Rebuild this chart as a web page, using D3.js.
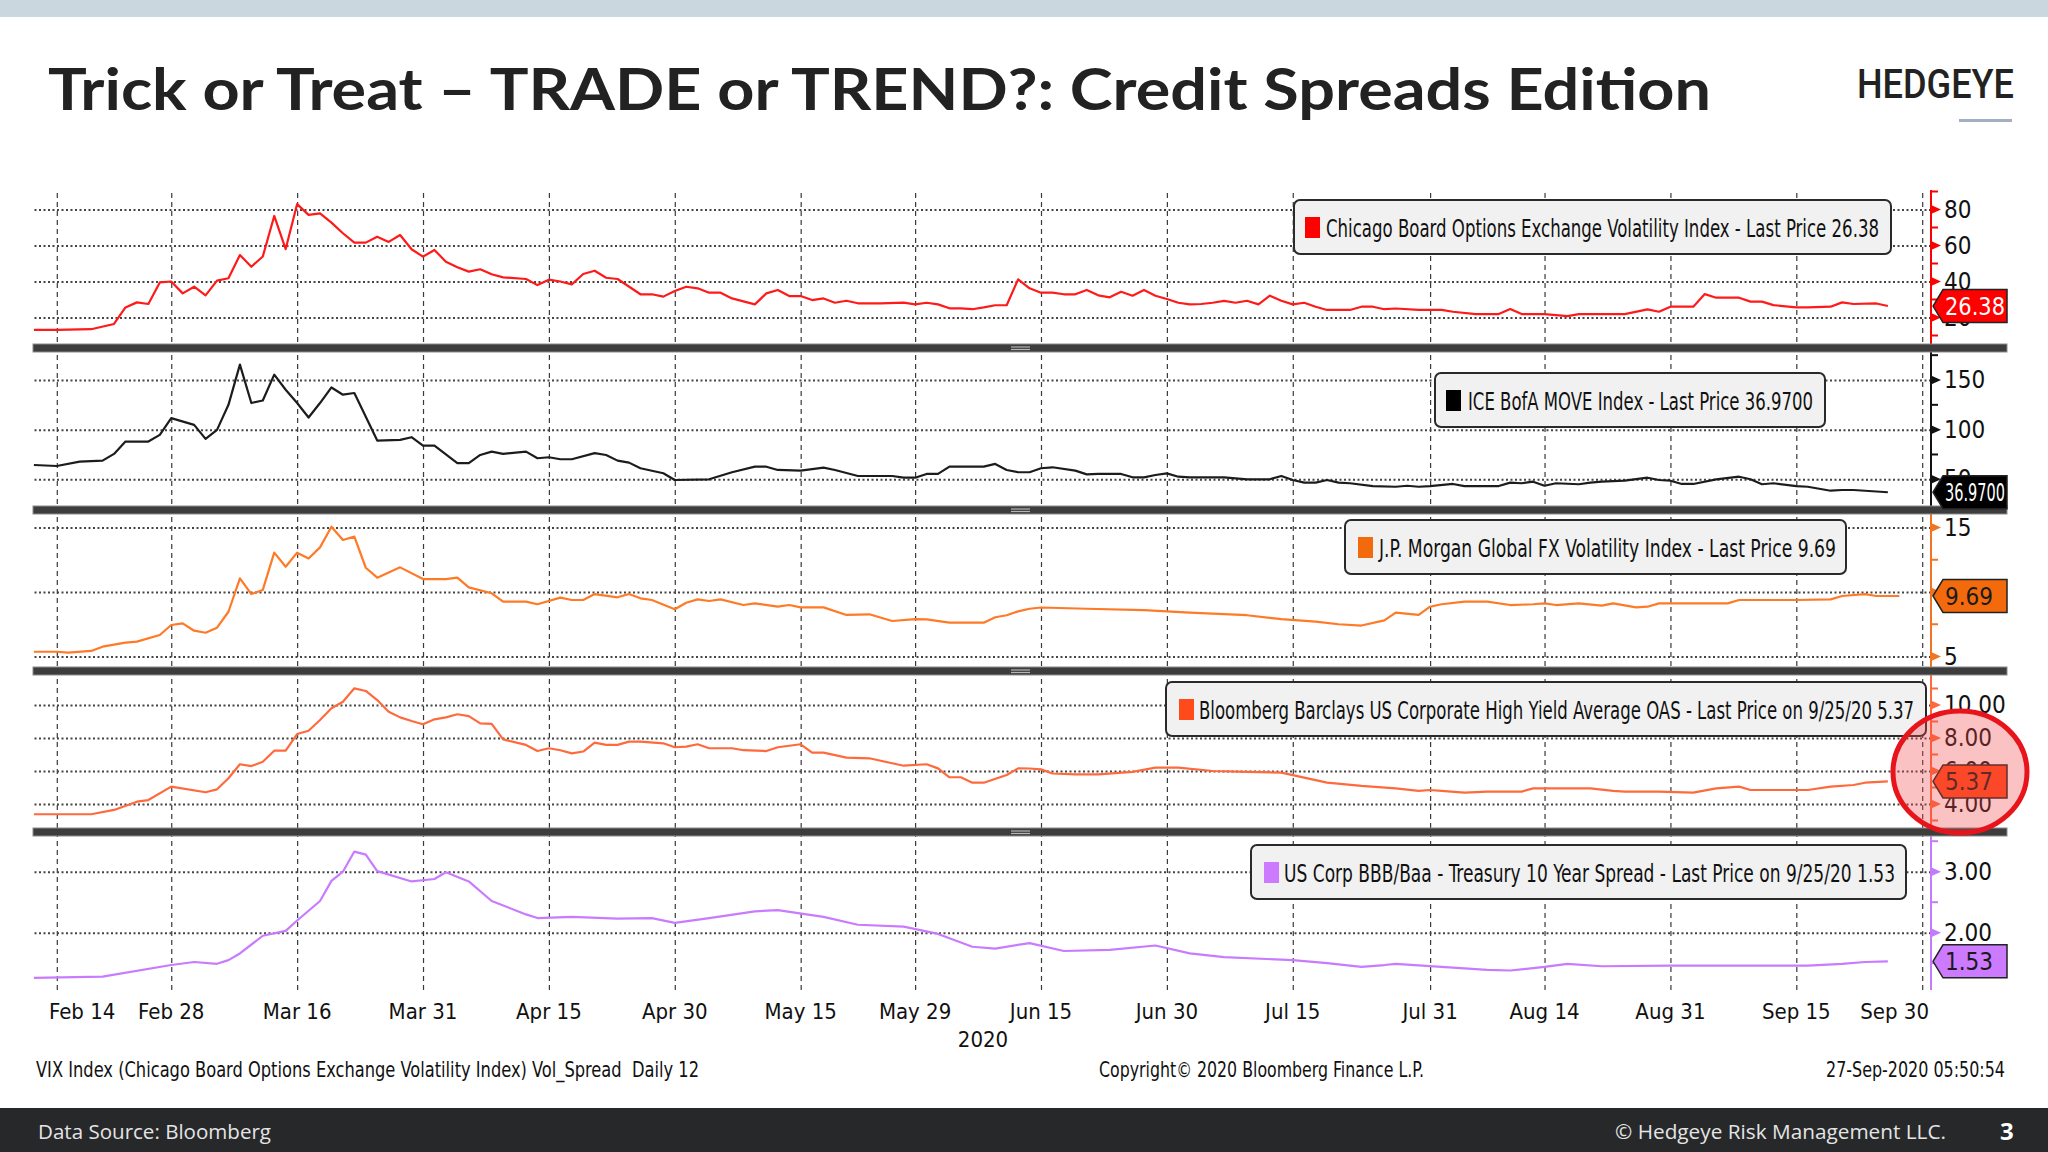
<!DOCTYPE html>
<html>
<head>
<meta charset="utf-8">
<script src="https://cdn.jsdelivr.net/npm/d3@7"></script>
<style>
  body { margin: 0; background: #fff; }
  .bb { font-family: "Liberation Sans Narrow", "DejaVu Sans Condensed", "Arial Narrow", sans-serif; }
</style>
</head>
<body>
<svg id="chart"></svg>
<script>
// Data, dates are 2020 "MM-DD"
const vix = [["02-12",13.1],["02-14",13.1],["02-19",13.5],["02-21",16.4],["02-24",25.6],["02-25",28.4],["02-26",27.5],["02-27",39.5],["02-28",40.0],["03-02",33.4],["03-03",37.1],["03-04",32.3],["03-05",40.5],["03-06",41.8],["03-09",54.7],["03-10",48.2],["03-11",53.9],["03-12",76.4],["03-13",58.0],["03-16",83.0],["03-17",77.0],["03-18",77.8],["03-19",72.7],["03-20",66.8],["03-23",61.6],["03-24",61.6],["03-25",64.9],["03-26",62.0],["03-27",65.8],["03-30",57.9],["03-31",53.8],["04-01",57.5],["04-02",51.0],["04-03",47.9],["04-06",45.5],["04-07",46.8],["04-08",44.0],["04-09",42.3],["04-13",41.4],["04-14",38.0],["04-15",41.0],["04-16",40.0],["04-17",38.4],["04-20",44.2],["04-21",46.0],["04-22",42.1],["04-23",41.4],["04-27",32.9],["04-28",32.9],["04-29",31.6],["04-30",34.7],["05-01",37.1],["05-04",36.2],["05-05",33.8],["05-06",33.8],["05-07",30.6],["05-11",27.3],["05-12",33.4],["05-13",35.3],["05-14",31.9],["05-15",31.9],["05-18",29.7],["05-19",30.6],["05-20",28.2],["05-21",29.3],["05-22",27.9],["05-26",27.9],["05-28",28.3],["05-29",27.3],["06-01",28.2],["06-02",27.3],["06-03",25.1],["06-04",25.1],["06-05",24.6],["06-08",25.6],["06-09",26.8],["06-10",26.8],["06-11",41.2],["06-12",36.2],["06-15",33.8],["06-16",33.8],["06-17",32.9],["06-18",32.9],["06-19",35.3],["06-22",32.3],["06-23",31.2],["06-24",34.3],["06-25",32.1],["06-26",35.3],["06-29",32.1],["06-30",30.3],["07-01",28.2],["07-02",27.3],["07-03",27.5],["07-06",28.2],["07-07",29.2],["07-08",28.2],["07-09",29.3],["07-10",27.3],["07-13",32.1],["07-14",29.3],["07-15",27.3],["07-16",28.2],["07-17",26.0],["07-20",24.2],["07-22",24.2],["07-23",26.0],["07-24",26.0],["07-27",24.6],["07-28",25.0],["07-30",24.2],["07-31",24.2],["08-03",24.2],["08-04",23.2],["08-06",21.9],["08-10",21.9],["08-11",24.7],["08-12",21.9],["08-14",21.9],["08-18",20.8],["08-19",21.9],["08-21",21.9],["08-25",21.9],["08-27",24.5],["08-28",23.2],["08-31",26.0],["09-02",26.0],["09-03",33.0],["09-04",31.0],["09-08",31.0],["09-09",28.8],["09-10",28.8],["09-11",26.9],["09-15",25.6],["09-16",25.6],["09-18",26.0],["09-21",28.4],["09-22",27.5],["09-24",27.8],["09-25",26.38]];

const move = [["02-12",64.4],["02-14",63.4],["02-18",67.8],["02-20",68.8],["02-21",75.6],["02-24",88],["02-26",88],["02-27",94.7],["02-28",111.6],["03-03",104.8],["03-04",90.7],["03-05",99.8],["03-06",125],["03-09",165.5],["03-10",126.8],["03-11",129.4],["03-12",155.4],["03-13",140.2],["03-16",126.8],["03-17",112.2],["03-18",126.8],["03-19",142.5],["03-20",135.2],["03-23",136.9],["03-25",89],["03-27",89.7],["03-30",92.4],["03-31",84],["04-01",84],["04-03",66.2],["04-06",66.2],["04-07",74.5],["04-08",77.9],["04-09",75.6],["04-13",77.9],["04-14",71.2],["04-15",72.2],["04-16",70.2],["04-17",70.2],["04-21",76.3],["04-22",74.5],["04-23",68.8],["04-24",66.8],["04-27",61.1],["04-29",56.1],["04-30",49.3],["05-05",50],["05-07",57.1],["05-11",62.7],["05-12",62.7],["05-13",59.4],["05-15",58.7],["05-19",61.7],["05-20",59.4],["05-22",53.3],["05-27",53.3],["05-28",51.6],["05-29",51.6],["06-01",55.4],["06-02",55.4],["06-03",62.7],["06-08",62.7],["06-09",65.5],["06-10",59.4],["06-11",57.1],["06-12",57.1],["06-15",61.1],["06-16",62.1],["06-18",58.7],["06-19",55],["06-22",55.4],["06-24",55.4],["06-25",52],["06-26",52],["06-29",54.3],["06-30",56],["07-01",52.6],["07-02",52],["07-07",52],["07-09",50],["07-13",50],["07-14",53.3],["07-15",49.3],["07-16",46.6],["07-17",46.6],["07-20",49.3],["07-21",46.6],["07-22",46],["07-24",43.2],["07-28",42.5],["07-29",43.5],["07-30",42.5],["07-31",43.2],["08-04",45.3],["08-05",43.2],["08-10",43.2],["08-11",46.6],["08-12",46],["08-13",47.6],["08-14",43.5],["08-17",46],["08-19",45],["08-20",46.6],["08-21",47.6],["08-25",48.6],["08-27",51.6],["08-28",49.3],["08-31",48.6],["09-01",45.3],["09-02",45.3],["09-04",50],["09-08",52.6],["09-09",50],["09-10",45],["09-11",46],["09-15",43.2],["09-16",42.5],["09-18",38.5],["09-21",39.2],["09-22",39.2],["09-25",36.97]];

const fxVol = [["02-12",5.37],["02-14",5.37],["02-17",5.3],["02-19",5.43],["02-20",5.76],["02-24",6.07],["02-25",6.15],["02-27",6.67],["02-28",7.44],["03-02",7.57],["03-03",7.0],["03-04",6.84],["03-05",7.23],["03-06",8.47],["03-09",11.06],["03-10",9.84],["03-11",10.16],["03-12",13.05],["03-13",11.96],["03-16",13.05],["03-17",12.6],["03-18",13.46],["03-19",15.06],["03-20",14.03],["03-23",14.29],["03-24",11.88],["03-25",11.11],["03-27",11.91],["03-31",11.0],["04-02",11.0],["04-03",11.11],["04-06",10.36],["04-08",9.9],["04-09",9.25],["04-13",9.25],["04-14",9.05],["04-16",9.56],["04-17",9.38],["04-20",9.38],["04-21",9.84],["04-23",9.59],["04-24",9.84],["04-27",9.51],["04-28",9.38],["04-30",8.66],["05-01",9.17],["05-04",9.43],["05-05",9.3],["05-06",9.43],["05-08",8.99],["05-11",9.12],["05-13",8.86],["05-14",8.99],["05-15",8.81],["05-19",8.81],["05-21",8.22],["05-25",8.27],["05-27",7.75],["05-29",7.9],["06-01",7.88],["06-03",7.62],["06-08",7.62],["06-09",8.04],["06-10",8.2],["06-11",8.5],["06-12",8.7],["06-15",8.8],["06-19",8.7],["06-26",8.6],["07-02",8.4],["07-09",8.2],["07-14",7.9],["07-17",7.7],["07-21",7.5],["07-23",7.4],["07-27",7.8],["07-28",8.4],["07-30",8.22],["07-31",8.86],["08-03",9.05],["08-05",9.25],["08-07",9.25],["08-11",8.99],["08-13",9.05],["08-14",9.12],["08-17",8.99],["08-19",9.12],["08-21",8.94],["08-24",9.12],["08-26",8.81],["08-27",8.86],["08-28",9.12],["09-02",9.12],["09-07",9.12],["09-08",9.38],["09-10",9.38],["09-15",9.38],["09-18",9.43],["09-21",9.69],["09-23",9.84],["09-24",9.69],["09-28",9.69]];

const hyOas = [["02-12",3.38],["02-19",3.38],["02-21",3.64],["02-25",4.14],["02-26",4.24],["02-28",5.05],["03-04",4.71],["03-05",4.89],["03-06",5.56],["03-09",6.41],["03-10",6.3],["03-11",6.56],["03-12",7.23],["03-13",7.23],["03-16",8.24],["03-17",8.44],["03-18",9.09],["03-19",9.8],["03-20",10.2],["03-23",11.01],["03-24",10.85],["03-25",10.3],["03-26",9.59],["03-27",9.25],["03-30",9.03],["03-31",8.83],["04-01",9.13],["04-02",9.25],["04-03",9.44],["04-06",9.33],["04-07",8.89],["04-08",8.86],["04-09",7.92],["04-13",7.58],["04-14",7.21],["04-15",7.38],["04-16",7.26],["04-17",7.07],["04-20",7.18],["04-21",7.72],["04-22",7.58],["04-23",7.58],["04-24",7.78],["04-27",7.78],["04-29",7.68],["04-30",7.44],["05-01",7.48],["05-04",7.62],["05-05",7.38],["05-07",7.38],["05-08",7.26],["05-12",7.21],["05-13",7.44],["05-15",7.62],["05-18",7.11],["05-19",7.11],["05-21",6.81],["05-25",6.77],["05-27",6.47],["05-28",6.32],["06-01",6.41],["06-02",6.16],["06-03",5.62],["06-04",5.62],["06-05",5.29],["06-08",5.29],["06-10",5.76],["06-11",6.16],["06-12",6.15],["06-15",6.1],["06-16",5.85],["06-18",5.8],["06-22",5.8],["06-25",5.95],["06-29",6.2],["07-01",6.2],["07-06",6.0],["07-09",5.95],["07-14",5.9],["07-16",5.6],["07-20",5.3],["07-23",5.1],["07-28",4.95],["07-30",4.79],["07-31",4.85],["08-03",4.79],["08-05",4.69],["08-07",4.75],["08-12",4.75],["08-13",4.95],["08-20",4.95],["08-24",4.79],["08-25",4.75],["08-28",4.75],["09-02",4.69],["09-04",4.95],["09-08",5.05],["09-09",4.85],["09-16",4.85],["09-18",5.05],["09-22",5.15],["09-23",5.29],["09-25",5.37]];

const bbbSpread = [["02-12",1.26],["02-20",1.28],["02-28",1.47],["03-03",1.52],["03-05",1.49],["03-06",1.55],["03-09",1.66],["03-11",1.95],["03-13",2.03],["03-16",2.2],["03-18",2.52],["03-19",2.85],["03-20",3.0],["03-23",3.33],["03-24",3.28],["03-25",3.01],["03-30",2.84],["04-01",2.88],["04-02",2.99],["04-06",2.84],["04-08",2.52],["04-13",2.3],["04-14",2.24],["04-17",2.26],["04-23",2.23],["04-28",2.24],["04-30",2.16],["05-05",2.24],["05-11",2.35],["05-13",2.37],["05-19",2.26],["05-22",2.13],["05-28",2.10],["06-02",1.98],["06-05",1.77],["06-09",1.74],["06-12",1.83],["06-17",1.70],["06-23",1.72],["06-29",1.79],["07-02",1.66],["07-07",1.6],["07-15",1.55],["07-20",1.5],["07-23",1.44],["07-27",1.47],["07-28",1.49],["08-03",1.44],["08-07",1.39],["08-11",1.38],["08-14",1.44],["08-18",1.49],["08-21",1.45],["08-31",1.46],["09-07",1.46],["09-16",1.46],["09-21",1.49],["09-23",1.52],["09-25",1.53]];

const tickDates = ["02-14","02-28","03-16","03-31","04-15","04-30","05-15","05-29","06-15","06-30","07-15","07-31","08-14","08-31","09-15","09-30"];
const tickLabels = ["Feb 14","Feb 28","Mar 16","Mar 31","Apr 15","Apr 30","May 15","May 29","Jun 15","Jun 30","Jul 15","Jul 31","Aug 14","Aug 31","Sep 15","Sep 30"];

const legendTexts = [
  "Chicago Board Options Exchange Volatility Index - Last Price 26.38",
  "ICE BofA MOVE Index - Last Price 36.9700",
  "J.P. Morgan Global FX Volatility Index - Last Price 9.69",
  "Bloomberg Barclays US Corporate High Yield Average OAS - Last Price on 9/25/20 5.37",
  "US Corp BBB/Baa - Treasury 10 Year Spread - Last Price on 9/25/20 1.53"
];
const lastLabels = ["26.38", "36.9700", "9.69", "5.37", "1.53"];

// Size
const W = 2048, H = 1152;
const LEFT = 33, AXIS_X = 1931, RIGHT = 2007;
const PLOT_TOP = 190, PLOT_BOTTOM = 990;

const svg = d3.select("#chart").attr("width", W).attr("height", H);
svg.append("rect").attr("width", W).attr("height", H).attr("fill", "#fff");

// weekday index (Bloomberg spaces the axis by weekdays)
const parseDay = d3.timeParse("%Y-%m-%d");
const base = parseDay("2020-02-10");
function bday(md) {
  const d = parseDay("2020-" + md);
  return d3.timeDay.range(base, d).filter(t => t.getDay() !== 0 && t.getDay() !== 6).length;
}

const x = d3.scaleLinear()
  .domain([bday("02-14"), bday("09-30")])
  .range([56.8, 1922.2]);

// Header
svg.append("rect").attr("width", W).attr("height", 17).attr("fill", "#cbd7df");
svg.append("text")
  .attr("x", 48).attr("y", 110)
  .attr("font-family", "Lato, 'Open Sans', sans-serif")
  .attr("font-weight", 700).attr("font-size", 57)
  .attr("fill", "#222")
  .attr("textLength", 1663).attr("lengthAdjust", "spacingAndGlyphs")
  .text("Trick or Treat – TRADE or TREND?: Credit Spreads Edition");
svg.append("text")
  .attr("x", 1857).attr("y", 98)
  .attr("font-family", "Roboto, 'Open Sans', sans-serif")
  .attr("font-weight", 500).attr("font-size", 40)
  .attr("fill", "#222")
  .attr("textLength", 157).attr("lengthAdjust", "spacingAndGlyphs")
  .text("HEDGEYE");
svg.append("rect").attr("x", 1959).attr("y", 119).attr("width", 53).attr("height", 3).attr("fill", "#a5afc4");

// Vertical dashed gridlines
const gx = svg.append("g")
  .attr("transform", `translate(0,${PLOT_BOTTOM})`)
  .call(d3.axisBottom(x).tickValues(tickDates.map(bday)).tickSize(-(PLOT_BOTTOM - PLOT_TOP)).tickFormat(""));
gx.select(".domain").remove();
gx.selectAll(".tick line").attr("stroke", "#3a3a3a").attr("stroke-width", 1.2).attr("stroke-dasharray", "5,4");

// Panels
const panels = [
  { data: vix, top: 190, bottom: 344, cal: [20, 80], calY: [317.5, 209.5],
    major: [20, 40, 60, 80], minor: [10, 30, 50, 70, 90], fmt: d3.format("d"),
    color: "#ff1a1a", axis: "#ff0000", boxFill: "#ff0000", boxText: "#fff",
    legend: { x: 1294, y: 200, w: 597, sq: 1305, tx: 1326, tl: 553 } },
  { data: move, top: 352, bottom: 506, cal: [50, 150], calY: [479.3, 380],
    major: [50, 100, 150], minor: [75, 125, 175], fmt: d3.format("d"),
    color: "#1c1c1c", axis: "#111", boxFill: "#000", boxText: "#fff",
    legend: { x: 1435, y: 373, w: 390, sq: 1446, tx: 1468, tl: 345 } },
  { data: fxVol, top: 514, bottom: 667, cal: [5, 15], calY: [656.5, 527.5],
    major: [5, 10, 15], minor: [7.5, 12.5], fmt: d3.format("d"),
    color: "#ff7a26", axis: "#f47320", boxFill: "#f26a0c", boxText: "#1a1a1a",
    legend: { x: 1345, y: 520, w: 501, sq: 1358, tx: 1379, tl: 457 } },
  { data: hyOas, top: 675, bottom: 828, cal: [4, 10], calY: [804, 705],
    major: [4, 6, 8, 10], minor: [3, 5, 7, 9, 11], fmt: d3.format(".2f"),
    color: "#ff6a3c", axis: "#ff6a3c", boxFill: "#ff4a1c", boxText: "#1a1a1a",
    legend: { x: 1166, y: 682, w: 760, sq: 1179, tx: 1199, tl: 715 } },
  { data: bbbSpread, top: 836, bottom: 990, cal: [2, 3], calY: [932.7, 871.7],
    major: [2, 3], minor: [1.5, 2.5, 3.5], fmt: d3.format(".2f"),
    color: "#c97bff", axis: "#c27aff", boxFill: "#cc7aff", boxText: "#1a1a1a",
    legend: { x: 1251, y: 845, w: 655, sq: 1264, tx: 1284, tl: 611 } }
];

const defs = svg.append("defs");

panels.forEach((p, i) => {
  const y = d3.scaleLinear().domain(p.cal).range(p.calY);
  const inPanel = v => y(v) >= p.top && y(v) <= p.bottom;

  // horizontal dotted gridlines
  const gy = svg.append("g")
    .attr("transform", `translate(${AXIS_X},0)`)
    .call(d3.axisLeft(y).tickValues(p.major).tickSize(AXIS_X - LEFT).tickFormat(""));
  gy.select(".domain").remove();
  gy.selectAll(".tick line").attr("stroke", "#444").attr("stroke-width", 2).attr("stroke-dasharray", "2,2.5");

  // series line
  defs.append("clipPath").attr("id", "clip" + i)
    .append("rect").attr("x", LEFT).attr("y", p.top).attr("width", AXIS_X - LEFT).attr("height", p.bottom - p.top);
  const line = d3.line().x(d => x(bday(d[0]))).y(d => y(d[1]));
  svg.append("path")
    .datum(p.data)
    .attr("clip-path", `url(#clip${i})`)
    .attr("fill", "none")
    .attr("stroke", p.color)
    .attr("stroke-width", 2.2)
    .attr("stroke-linejoin", "round")
    .attr("d", line);

  // legend box
  const lg = svg.append("g").attr("class", "bb");
  lg.append("rect")
    .attr("x", p.legend.x).attr("y", p.legend.y)
    .attr("width", p.legend.w).attr("height", 54)
    .attr("rx", 6)
    .attr("fill", "#f1f1f1").attr("stroke", "#2a2a2a").attr("stroke-width", 2);
  lg.append("rect")
    .attr("x", p.legend.sq).attr("y", p.legend.y + 17)
    .attr("width", 15).attr("height", 21)
    .attr("fill", p.boxFill);
  lg.append("text")
    .attr("x", p.legend.tx).attr("y", p.legend.y + 37)
    .attr("font-size", 25).attr("fill", "#111")
    .attr("textLength", p.legend.tl).attr("lengthAdjust", "spacingAndGlyphs")
    .text(legendTexts[i]);

  // right axis
  const ax = svg.append("g").attr("transform", `translate(${AXIS_X},0)`);
  ax.append("line").attr("y1", p.top).attr("y2", p.bottom)
    .attr("stroke", p.axis).attr("stroke-width", 2);
  const lab = ax.append("g").attr("class", "bb")
    .call(d3.axisRight(y).tickValues(p.major).tickSize(0).tickPadding(13).tickFormat(p.fmt));
  lab.select(".domain").remove();
  lab.selectAll("text").attr("font-family", null).attr("font-size", 24).attr("fill", "#111");
  ax.selectAll("path.tri")
    .data(p.major)
    .join("path")
    .attr("class", "tri")
    .attr("d", "M0,-4.5L10,0L0,4.5Z")
    .attr("transform", d => `translate(0,${y(d)})`)
    .attr("fill", p.axis);
  ax.selectAll("line.minor")
    .data(p.minor.filter(inPanel))
    .join("line")
    .attr("class", "minor")
    .attr("x1", 0).attr("x2", 7)
    .attr("y1", d => y(d)).attr("y2", d => y(d))
    .attr("stroke", p.axis).attr("stroke-width", 2);

  p.y = y;
});

// separators
[344, 506, 667, 828].forEach(yy => {
  svg.append("rect").attr("x", LEFT).attr("y", yy).attr("width", RIGHT - LEFT).attr("height", 8)
    .attr("fill", "#3d3d3d").attr("stroke", "#8c8c8c").attr("stroke-width", 1);
  [yy + 3, yy + 5.5].forEach(gy => {
    svg.append("line").attr("x1", 1011).attr("x2", 1030).attr("y1", gy).attr("y2", gy)
      .attr("stroke", "#b5b5b5").attr("stroke-width", 1.2);
  });
});

// last price boxes
panels.forEach((p, i) => {
  const last = p.data[p.data.length - 1][1];
  const cy = p.y(last);
  const pts = [[1933, cy], [1943, cy - 16.5], [RIGHT, cy - 16.5], [RIGHT, cy + 16.5], [1943, cy + 16.5]];
  svg.append("path")
    .attr("d", d3.line()(pts) + "Z")
    .attr("fill", p.boxFill).attr("stroke", "#222").attr("stroke-width", 1.5);
  const t = svg.append("text").attr("class", "bb")
    .attr("x", 1945).attr("y", cy).attr("dy", "0.36em")
    .attr("font-size", 24).attr("fill", p.boxText)
    .text(lastLabels[i]);
  // squeeze long labels into the box
  if (t.node().getComputedTextLength() > RIGHT - 1947) {
    t.attr("textLength", RIGHT - 1947).attr("lengthAdjust", "spacingAndGlyphs");
  }
});

// highlight circle
svg.append("ellipse")
  .attr("cx", 1960).attr("cy", 772).attr("rx", 67).attr("ry", 61)
  .attr("fill", "rgba(240,70,70,0.33)")
  .attr("stroke", "#e8141c").attr("stroke-width", 5);

// x labels
const xl = svg.append("g").attr("class", "bb");
tickDates.forEach((d, i) => {
  const t = xl.append("text")
    .attr("x", x(bday(d))).attr("y", 1019)
    .attr("text-anchor", "middle")
    .attr("font-size", 22).attr("fill", "#111")
    .text(tickLabels[i]);
  const b = t.node().getBBox();
  if (b.x < 49) t.attr("text-anchor", "start").attr("x", 49);
  if (b.x + b.width > 1929) t.attr("text-anchor", "end").attr("x", 1929);
});
xl.append("text").attr("x", 983).attr("y", 1047).attr("text-anchor", "middle")
  .attr("font-size", 22).attr("fill", "#111").text("2020");

// bloomberg footer
const bf = svg.append("g").attr("class", "bb").attr("font-size", 21).attr("fill", "#111");
bf.append("text").attr("x", 36).attr("y", 1077).style("white-space", "pre")
  .attr("textLength", 663).attr("lengthAdjust", "spacingAndGlyphs")
  .text("VIX Index (Chicago Board Options Exchange Volatility Index) Vol_Spread  Daily 12");
bf.append("text").attr("x", 1099).attr("y", 1077)
  .attr("textLength", 325).attr("lengthAdjust", "spacingAndGlyphs")
  .text("Copyright© 2020 Bloomberg Finance L.P.");
bf.append("text").attr("x", 1826).attr("y", 1077)
  .attr("textLength", 179).attr("lengthAdjust", "spacingAndGlyphs")
  .text("27-Sep-2020 05:50:54");

// page footer
svg.append("rect").attr("x", 0).attr("y", 1108).attr("width", W).attr("height", H - 1108).attr("fill", "#27282a");
const pf = svg.append("g").attr("font-family", "'Open Sans', 'Noto Sans', sans-serif").attr("fill", "#e4e4e4");
pf.append("text").attr("x", 38).attr("y", 1139).attr("font-size", 20)
  .attr("textLength", 233).attr("lengthAdjust", "spacingAndGlyphs")
  .text("Data Source: Bloomberg");
pf.append("text").attr("x", 1615).attr("y", 1139).attr("font-size", 20)
  .attr("textLength", 331).attr("lengthAdjust", "spacingAndGlyphs")
  .text("© Hedgeye Risk Management LLC.");
pf.append("text").attr("x", 2000).attr("y", 1140).attr("font-size", 24).attr("font-weight", 700)
  .attr("fill", "#fff").text("3");
</script>
</body>
</html>
